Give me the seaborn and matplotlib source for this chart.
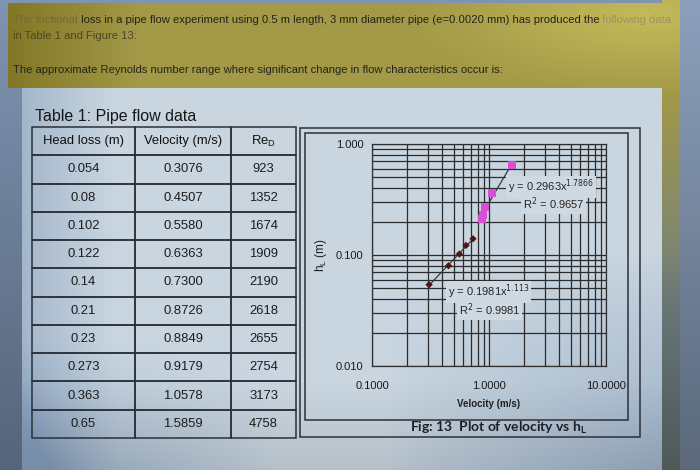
import numpy as np
import pandas as pd
import matplotlib
matplotlib.use("Agg")
import matplotlib.pyplot as plt
from matplotlib.patches import Rectangle
from matplotlib.ticker import FixedLocator, LogLocator, NullFormatter
import seaborn as sns

# ---- data ----
head_loss = [0.054, 0.08, 0.102, 0.122, 0.14, 0.21, 0.23, 0.273, 0.363, 0.65]
velocity = [0.3076, 0.4507, 0.5580, 0.6363, 0.7300, 0.8726, 0.8849, 0.9179, 1.0578, 1.5859]
reynolds = [923, 1352, 1674, 1909, 2190, 2618, 2655, 2754, 3173, 4758]
regime = ["laminar"] * 5 + ["turbulent"] * 5

head_loss_txt = ["0.054", "0.08", "0.102", "0.122", "0.14", "0.21", "0.23", "0.273", "0.363", "0.65"]
velocity_txt = ["0.3076", "0.4507", "0.5580", "0.6363", "0.7300", "0.8726", "0.8849", "0.9179", "1.0578", "1.5859"]
col_labels = ["Head loss (m)", "Velocity (m/s)", "Re$_\\mathregular{D}$"]

# power-law trendlines as printed on the chart
fit_lam = (0.1981, 1.113, 0.9981)
fit_turb = (0.2963, 1.7866, 0.9657)

x_ticks = [0.1, 1.0, 10.0]
x_tick_labels = ["0.1000", "1.0000", "10.0000"]
y_ticks = [0.01, 0.1, 1.0]
y_tick_labels = ["0.010", "0.100", "1.000"]

df = pd.DataFrame({"velocity": velocity, "head_loss": head_loss, "regime": regime})

sns.set_style("white")
plt.rcParams["font.family"] = ["Liberation Sans", "DejaVu Sans"]

W, H = 700, 470
fig = plt.figure(figsize=(7, 4.7), dpi=100)


def fx(px):
    return px / W


def fy(py):
    return 1 - py / H


# ---- photographed screen background ----
yy, xx = np.mgrid[0:H, 0:W].astype(float)
img = np.empty((H, W, 3))
# blue-grey surroundings, darker toward the bottom
img[:] = [0.50, 0.58, 0.70]
img *= (1 - 0.32 * (yy / H))[..., None]
# olive band on top and strip on the right
olive = ((xx >= 8) & (xx < 680) & (yy >= 3) & (yy < 88)) | ((xx >= 662) & (xx < 680))
olive_col = np.array([0.64, 0.60, 0.28])
img[olive] = olive_col
glare = np.clip(1 - np.hypot((xx - 650) / 240, (yy - 15) / 80), 0, 1)
img[olive] += (glare[olive] * 0.13)[:, None] * np.array([1, 1, 0.55])
img[olive] -= (np.clip((140 - xx) / 140, 0, 1) * 0.14)[olive][:, None]
strip = (xx >= 662) & (xx < 680) & (yy >= 88)
mix = np.clip((yy - 88) / 220, 0, 1)[strip][:, None]
img[strip] = (1 - mix) * img[strip] + mix * np.array([0.44, 0.50, 0.50])
img[strip] *= (1 - 0.3 * np.clip((yy[strip] - 250) / 220, 0, 1))[:, None]
# the light screen panel
panel = (xx >= 22) & (xx < 662) & (yy >= 88)
img[panel] = [0.79, 0.84, 0.88]
blue = np.array([0.47, 0.57, 0.70])
w_br = (np.clip((yy - 250) / 220, 0, 1) * np.clip((xx - 380) / 280, 0, 1)) ** 0.9 * 0.55
w_l = np.clip((120 - xx) / 120, 0, 1) ** 1.2 * 0.6
w_bl = np.clip((yy - 340) / 130, 0, 1) * np.clip((280 - xx) / 280, 0, 1) * 0.65
wt = np.clip(w_br + w_l + w_bl, 0, 0.85)[panel][:, None]
img[panel] = (1 - wt) * img[panel] + wt * blue
img[panel] *= (1 - 0.10 * np.clip((yy[panel] - 380) / 90, 0, 1))[:, None]
right = xx >= 680
img[right] = [0.55, 0.63, 0.74]
img[right] *= (1 - 0.35 * yy[right] / H)[:, None]
img = np.clip(img, 0, 1)

bg = fig.add_axes([0, 0, 1, 1])
bg.imshow(img, aspect="auto", extent=(0, W, H, 0), interpolation="bilinear")
bg.set_xlim(0, W)
bg.set_ylim(H, 0)
bg.axis("off")

txt_col = "#24241a"
faded = "#6f6a3c"
top_fs = 8.1
t0 = bg.text(13, 20, "The frictional", fontsize=top_fs, color=faded, va="center")
t1 = bg.annotate(" loss in a pipe flow experiment using 0.5 m length, 3 mm diameter pipe "
                 "(e=0.0020 mm) has produced the", xy=(1, 0.5), xycoords=t0, va="center",
                 fontsize=top_fs, color=txt_col)
bg.annotate(" following data", xy=(1, 0.5), xycoords=t1, va="center",
            fontsize=top_fs, color="#9a9560")
bg.text(13, 36, "in Table 1 and Figure 13:", fontsize=top_fs, color="#4a4828", va="center")
bg.text(13, 70, "The approximate Reynolds number range where significant change in flow characteristics occur is:",
        fontsize=top_fs, color=txt_col, va="center")

# table title
bg.text(35, 116, "Table 1: Pipe flow data", fontsize=11.5, color="#151515", va="center")

# chart frames
for (x0, y0, x1, y1) in [(300, 128, 640, 437), (305, 133, 628, 420)]:
    bg.add_patch(Rectangle((x0, y0), x1 - x0, y1 - y0, fill=False, ec="#2c3038", lw=1.1))

bg.text(499, 428, "Fig: 13  Plot of velocity vs h$_\\mathregular{L}$", fontsize=10, fontweight="bold",
        color="#1c1f26", ha="center", va="center", family=["Lato", "DejaVu Sans"])

# ---- table ----
tax = fig.add_axes([fx(32), fy(438), fx(296) - fx(32), fy(127) - fy(438)])
tax.axis("off")
cells = [[h, v, str(r)] for h, v, r in zip(head_loss_txt, velocity_txt, reynolds)]
tbl = tax.table(cellText=cells, colLabels=col_labels, cellLoc="center",
                colWidths=[103, 96, 65], bbox=[0, 0, 1, 1])
tbl.auto_set_font_size(False)
for (r, c), cell in tbl.get_celld().items():
    cell.set_facecolor("none")
    cell.set_edgecolor("#2a3038")
    cell.set_linewidth(1.1)
    cell.get_text().set_fontsize(9.4)
    cell.get_text().set_color("#101010" if r == 0 else "#1c1c1c")

# ---- chart ----
ax = fig.add_axes([fx(372), fy(366), fx(606) - fx(372), fy(144) - fy(366)])
ax.set_facecolor("none")
ax.set_xscale("log")
ax.set_yscale("log")
ax.set_xlim(0.1, 10)
ax.set_ylim(0.01, 1)

ax.xaxis.set_major_locator(FixedLocator(x_ticks))
ax.yaxis.set_major_locator(FixedLocator(y_ticks))
ax.xaxis.set_minor_locator(LogLocator(base=10, subs=np.arange(2, 10)))
ax.yaxis.set_minor_locator(LogLocator(base=10, subs=np.arange(2, 10)))
ax.xaxis.set_minor_formatter(NullFormatter())
ax.yaxis.set_minor_formatter(NullFormatter())
ax.set_xticklabels(x_tick_labels)
ax.set_yticklabels(y_tick_labels)
ax.tick_params(axis="both", which="major", labelsize=8, length=4, direction="out",
               color="#303030", labelcolor="#1a1a1a")
ax.tick_params(axis="x", which="major", pad=6.5)
ax.tick_params(axis="y", which="major", pad=2)
ax.tick_params(axis="both", which="minor", length=0)
ax.grid(True, which="both", color="#2b2b2b", lw=0.9)
for s in ax.spines.values():
    s.set_color("#303030")
    s.set_linewidth(0.9)

lam = df[df.regime == "laminar"]
turb = df[df.regime == "turbulent"]
for part, (a, b, _) in [(lam, fit_lam), (turb, fit_turb)]:
    xs = np.array(part.velocity)
    line = pd.DataFrame({"velocity": xs, "head_loss": a * xs ** b})
    sns.lineplot(data=line, x="velocity", y="head_loss", ax=ax, color="#3a3a3a", lw=0.9,
                 zorder=3, legend=False)

sns.scatterplot(data=df, x="velocity", y="head_loss", hue="regime", style="regime",
                markers={"laminar": "D", "turbulent": "s"},
                palette={"laminar": "#4e1616", "turbulent": "#d64fd6"},
                size="regime", sizes={"laminar": 14, "turbulent": 34},
                edgecolor="none", legend=False, ax=ax, zorder=4)

ax.set_xlabel("Velocity (m/s)", fontsize=7, fontweight="bold", color="#1f1f1f", labelpad=6)
ax.set_ylabel("h$_\\mathregular{L}$ (m)", fontsize=8.5, color="#1f1f1f", labelpad=5)

box = dict(boxstyle="square,pad=0.15", fc="#cfd9e1", ec="none")
ax.text(1.45, 0.41, "y = %.4fx$^{%.4f}$" % fit_turb[:2], fontsize=8, ha="left", va="center",
        bbox=box, zorder=5)
ax.text(1.95, 0.288, "R$^2$ = %.4f" % fit_turb[2], fontsize=8, ha="left", va="center",
        bbox=box, zorder=5)
ax.text(0.447, 0.0464, "y = %.4fx$^{%.3f}$" % fit_lam[:2], fontsize=8, ha="left", va="center",
        bbox=box, zorder=5)
ax.text(0.555, 0.032, "R$^2$ = %.4f" % fit_lam[2], fontsize=8, ha="left", va="center",
        bbox=box, zorder=5)

fig.savefig("out.png", dpi=100)
